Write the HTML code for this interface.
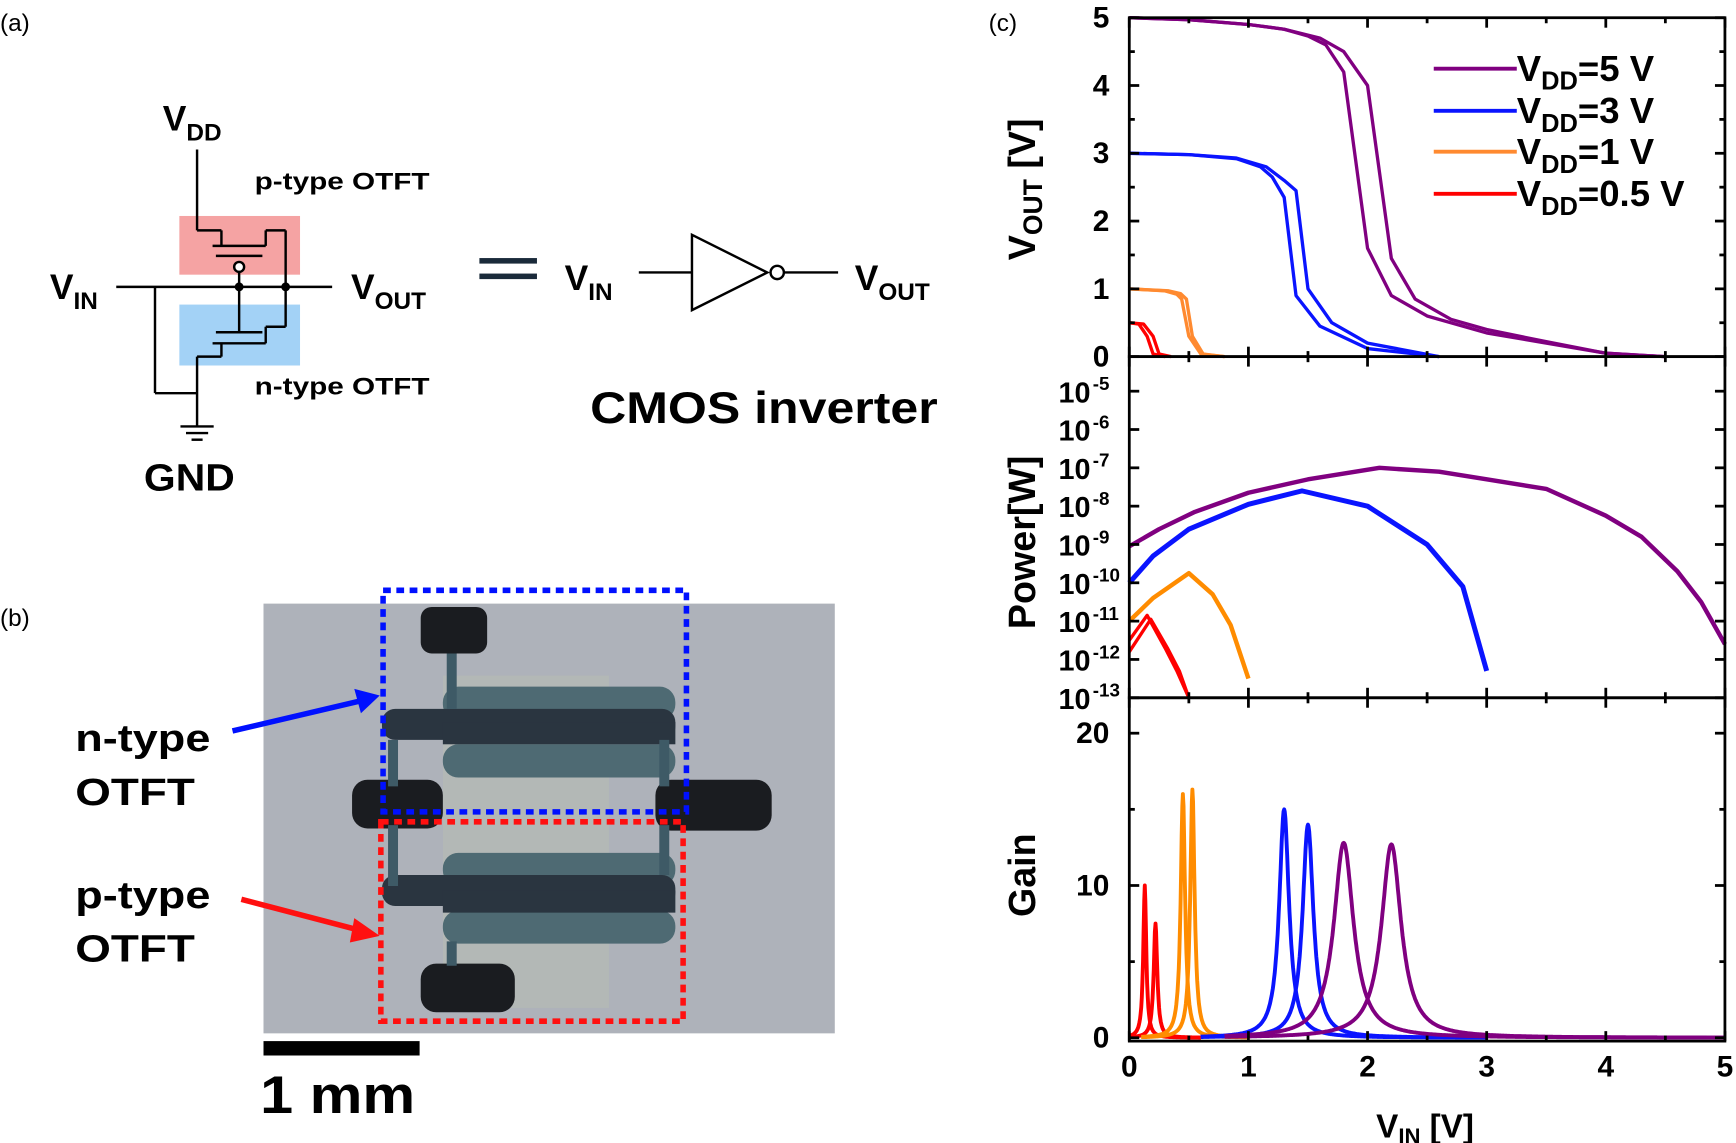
<!DOCTYPE html>
<html><head><meta charset="utf-8"><style>
html,body{margin:0;padding:0;background:#fff}
svg{display:block}
text{font-family:"Liberation Sans",Arial,sans-serif}
</style></head><body>
<svg id="s" width="1736" height="1143" viewBox="0 0 1568 1032" preserveAspectRatio="none" xmlns="http://www.w3.org/2000/svg">
<text x="0" y="28" font-size="22">(a)</text>
<rect x="162" y="195" width="109" height="53" fill="#f5a3a3"/>
<rect x="162" y="275" width="109" height="55" fill="#a3d2f6"/>
<g stroke="#000" stroke-width="2.2" fill="none">
<line x1="178" y1="135" x2="178" y2="208"/>
<line x1="178" y1="208" x2="200" y2="208"/>
<line x1="200" y1="208" x2="200" y2="222"/>
<line x1="192" y1="222" x2="240" y2="222"/>
<line x1="240" y1="208" x2="240" y2="222"/>
<line x1="240" y1="208" x2="258" y2="208"/>
<line x1="258" y1="208" x2="258" y2="259"/>
<line x1="195" y1="231" x2="237" y2="231"/>
<circle cx="216" cy="241" r="4.5" fill="#fff"/>
<line x1="216" y1="246" x2="216" y2="300"/>
<line x1="105" y1="259" x2="300" y2="259"/>
<line x1="195" y1="300" x2="237" y2="300"/>
<line x1="192" y1="310" x2="240" y2="310"/>
<line x1="200" y1="310" x2="200" y2="322"/>
<line x1="240" y1="295" x2="240" y2="310"/>
<line x1="240" y1="295" x2="258" y2="295"/>
<line x1="258" y1="259" x2="258" y2="295"/>
<line x1="200" y1="322" x2="178" y2="322"/>
<line x1="178" y1="322" x2="178" y2="385"/>
<line x1="140" y1="259" x2="140" y2="355"/>
<line x1="140" y1="355" x2="178" y2="355"/>
<line x1="163" y1="385" x2="193" y2="385"/>
<line x1="168" y1="391" x2="188" y2="391"/>
<line x1="173" y1="397" x2="183" y2="397"/>
<line x1="577" y1="246" x2="625" y2="246"/>
<polygon points="625,212 625,280 693,246"/>
<circle cx="702" cy="246" r="6"/>
<line x1="708" y1="246" x2="757" y2="246"/>
</g>
<circle cx="216" cy="259" r="4"/><circle cx="258" cy="259" r="4"/>
<rect x="433" y="233" width="52" height="5" fill="#1a2a3a"/>
<rect x="433" y="247" width="52" height="5" fill="#1a2a3a"/>
<g font-weight="bold">
<text x="147" y="118" font-size="32">V<tspan font-size="22" dy="9">DD</tspan></text>
<text x="45" y="270" font-size="32">V<tspan font-size="22" dy="9">IN</tspan></text>
<text x="317" y="270" font-size="32">V<tspan font-size="22" dy="9">OUT</tspan></text>
<text x="510" y="262" font-size="32">V<tspan font-size="22" dy="9">IN</tspan></text>
<text x="772" y="262" font-size="32">V<tspan font-size="22" dy="9">OUT</tspan></text>
<text x="533" y="382" font-size="40" textLength="314" lengthAdjust="spacingAndGlyphs">CMOS inverter</text>
<text x="130" y="443" font-size="34" textLength="82" lengthAdjust="spacingAndGlyphs">GND</text>
<text x="230" y="171" font-size="22" textLength="158" lengthAdjust="spacingAndGlyphs">p-type OTFT</text>
<text x="230" y="356" font-size="22" textLength="158" lengthAdjust="spacingAndGlyphs">n-type OTFT</text>
</g>
<text x="0" y="565" font-size="22">(b)</text>
<rect x="238" y="545" width="516" height="388" fill="#aeb2ba"/>
<rect x="400" y="610" width="150" height="300" fill="#b6bdb4" opacity="0.6"/>
<g fill="#1a1c20">
<rect x="380" y="548" width="60" height="42" rx="10"/>
<rect x="318" y="704" width="82" height="44" rx="14"/>
<rect x="592" y="704" width="105" height="46" rx="14"/>
<rect x="380" y="870" width="85" height="44" rx="14"/>
</g>
<g fill="#4e6a73">
<rect x="400" y="620" width="210" height="30" rx="14"/>
<rect x="400" y="672" width="210" height="30" rx="14"/>
<rect x="400" y="770" width="210" height="30" rx="14"/>
<rect x="400" y="822" width="210" height="30" rx="14"/>
</g>
<g fill="#2a3540">
<rect x="345" y="640" width="265" height="28" rx="12"/>
<rect x="345" y="790" width="265" height="28" rx="12"/>
<rect x="400" y="652" width="210" height="20"/>
<rect x="400" y="804" width="210" height="20"/>
</g>
<g stroke="#3e5a66" stroke-width="9" fill="none">
<path d="M408 590 V640"/><path d="M355 668 V710"/><path d="M600 668 V710"/><path d="M355 745 V800"/><path d="M600 745 V790"/><path d="M408 850 V872"/>
</g>
<rect x="346" y="533" width="274" height="200" fill="none" stroke="#0010ff" stroke-width="5" stroke-dasharray="7,5"/>
<rect x="344" y="742" width="273" height="180" fill="none" stroke="#ff1010" stroke-width="5" stroke-dasharray="7,5"/>
<line x1="210" y1="660" x2="325" y2="633" stroke="#0010ff" stroke-width="5"/>
<polygon points="343,628 320,622 326,644" fill="#0010ff"/>
<line x1="218" y1="812" x2="325" y2="840" stroke="#ff1010" stroke-width="5"/>
<polygon points="343,845 320,829 316,851" fill="#ff1010"/>
<g font-weight="bold" font-size="34">
<text x="68" y="678" textLength="122" lengthAdjust="spacingAndGlyphs">n-type</text><text x="68" y="727" textLength="108" lengthAdjust="spacingAndGlyphs">OTFT</text>
<text x="68" y="820" textLength="122" lengthAdjust="spacingAndGlyphs">p-type</text><text x="68" y="868" textLength="108" lengthAdjust="spacingAndGlyphs">OTFT</text>
</g>
<rect x="238" y="940" width="141" height="13" fill="#000"/>
<text x="235" y="1005" font-size="48" font-weight="bold" textLength="140" lengthAdjust="spacingAndGlyphs">1 mm</text>
<text x="893" y="28" font-size="22">(c)</text>
<g id="plots"></g>
</svg>
<script>
var NS="http://www.w3.org/2000/svg",g=document.getElementById("plots");
function el(t,a,txt){var e=document.createElementNS(NS,t);for(var k in a)e.setAttribute(k,a[k]);if(txt!=null)e.textContent=txt;g.appendChild(e);return e;}
var L=1020,R=1558;function X(v){return L+v*(R-L)/5;}
function Y1(v){return 322-v*61.2;}
function Y2(v){return 630-(v+13)*34.6;}
function Y3(v){return 937-v*13.75;}
function path(pts,fy,col,w){var d="";pts.forEach(function(p,i){d+=(i?"L":"M")+X(p[0]).toFixed(1)+" "+fy(p[1]).toFixed(1);});el("path",{d:d,stroke:col,"stroke-width":w||3,fill:"none","stroke-linejoin":"round"});}
var P="#800080",B="#0a14ff",O="#ff8a30",O2="#ff8c00",Rd="#ff0000";
path([[0,5],[0.5,4.97],[1,4.9],[1.3,4.83],[1.5,4.73],[1.65,4.6],[1.8,4.2],[2.0,1.6],[2.2,0.9],[2.5,0.6],[3,0.35],[3.5,0.2],[4,0.05],[4.5,0]],Y1,P);
path([[0,5],[0.5,4.97],[1,4.9],[1.3,4.83],[1.6,4.7],[1.8,4.5],[2.0,4.0],[2.2,1.45],[2.4,0.85],[2.7,0.55],[3,0.4],[3.5,0.22],[4,0.05],[4.5,0]],Y1,P);
path([[0,3],[0.5,2.98],[0.9,2.92],[1.1,2.8],[1.2,2.65],[1.3,2.35],[1.4,0.9],[1.6,0.45],[2,0.12],[2.6,0]],Y1,B);
path([[0,3],[0.5,2.98],[0.9,2.93],[1.15,2.8],[1.3,2.6],[1.4,2.45],[1.5,1.0],[1.7,0.5],[2,0.2],[2.6,0]],Y1,B);
path([[0,1],[0.3,0.97],[0.4,0.92],[0.44,0.85],[0.5,0.3],[0.6,0.04],[0.8,0]],Y1,O);
path([[0,1],[0.33,0.97],[0.43,0.93],[0.48,0.85],[0.53,0.3],[0.62,0.04],[0.8,0]],Y1,O);
path([[0,0.5],[0.08,0.48],[0.15,0.3],[0.2,0.04],[0.3,0]],Y1,Rd);
path([[0,0.5],[0.12,0.48],[0.2,0.3],[0.25,0.04],[0.35,0]],Y1,Rd);
path([[0,-9.05],[0.25,-8.6],[0.55,-8.15],[1,-7.65],[1.5,-7.3],[2.1,-7.0],[2.6,-7.1],[3,-7.3],[3.5,-7.55],[4,-8.25],[4.3,-8.8],[4.6,-9.7],[4.8,-10.5],[5,-11.6]],Y2,P,4);
path([[0,-10.0],[0.2,-9.3],[0.5,-8.6],[1,-7.95],[1.45,-7.6],[2,-8.0],[2.5,-9.0],[2.8,-10.1],[3,-12.3]],Y2,B,4.5);
path([[0,-11.0],[0.2,-10.4],[0.5,-9.75],[0.7,-10.3],[0.85,-11.1],[1,-12.5]],Y2,O2,4);
path([[0,-11.5],[0.15,-10.85],[0.3,-11.7],[0.4,-12.3],[0.5,-13]],Y2,Rd,3);
path([[0,-11.8],[0.18,-10.95],[0.32,-11.7],[0.42,-12.3],[0.5,-13]],Y2,Rd,3);
function lor(x0,pk,w,a,b,col){var pts=[];for(var x=a;x<=b+1e-9;x+=0.005){var v=pk/(1+Math.pow((x-x0)/w,2));pts.push([x,v]);}path(pts,Y3,col,3.5);}
lor(0.13,10,0.015,0,0.6,Rd);lor(0.22,7.5,0.018,0,0.6,Rd);
lor(0.45,16,0.022,0.1,1.0,O2);lor(0.53,16.3,0.022,0.1,1.0,O2);
lor(1.3,15,0.05,0.6,3,B);lor(1.5,14,0.055,0.6,3,B);
lor(1.8,12.8,0.1,0.8,5,P);lor(2.2,12.7,0.1,0.8,5,P);
[16,322,630].forEach(function(t,i){var b=[322,630,940][i];el("rect",{x:L,y:t,width:R-L,height:b-t,fill:"none",stroke:"#000","stroke-width":2.5});
 for(var v=0;v<=5;v+=0.5){var big=v%1==0;el("line",{x1:X(v),x2:X(v),y1:b,y2:b-(big?9:5),stroke:"#000","stroke-width":2.5});el("line",{x1:X(v),x2:X(v),y1:t,y2:t+(big?9:5),stroke:"#000","stroke-width":2.5});}});
function ytick(y,big){el("line",{x1:L,x2:L+(big?9:5),y1:y,y2:y,stroke:"#000","stroke-width":2.5});el("line",{x1:R,x2:R-(big?9:5),y1:y,y2:y,stroke:"#000","stroke-width":2.5});}
for(var v=0;v<=5;v+=0.5)ytick(Y1(v),v%1==0);
for(var v=-13;v<=-5;v++)ytick(Y2(v),true);
for(var v=0;v<=20;v+=5)ytick(Y3(v),v%10==0);
var fb={"font-weight":"bold","font-size":27,"text-anchor":"end"};
function T(x,y,t,a){var o={x:x,y:y};for(var k in a)o[k]=a[k];return el("text",o,t);}
for(var v=0;v<=5;v++)T(1002,Y1(v)+9,String(v),fb);
for(var v=-13;v<=-5;v++){T(985,Y2(v)+10,"10",{"font-weight":"bold","font-size":26,"text-anchor":"end"});T(987,Y2(v)-1,String(v),{"font-weight":"bold","font-size":17});}
T(1002,Y3(0)+9,"0",fb);T(1002,Y3(10)+9,"10",fb);T(1002,Y3(20)+9,"20",fb);
for(var v=0;v<=5;v++)T(X(v),972,String(v),{"font-weight":"bold","font-size":27,"text-anchor":"middle"});
var xl=T(1243,1027,"",{"font-weight":"bold","font-size":30});xl.innerHTML='V<tspan font-size="20" dy="6">IN</tspan><tspan dy="-6"> [V]</tspan>';
var a1=T(0,0,"",{"font-weight":"bold","font-size":34,transform:"translate(935,235) rotate(-90)"});a1.innerHTML='V<tspan font-size="24" dy="6">OUT</tspan><tspan dy="-6"> [V]</tspan>';
T(0,0,"Power[W]",{"font-weight":"bold","font-size":34,transform:"translate(935,568) rotate(-90)"});
T(0,0,"Gain",{"font-weight":"bold","font-size":34,transform:"translate(935,828) rotate(-90)"});
[[P,"5 V",62],[B,"3 V",100],[O,"1 V",137],[Rd,"0.5 V",175]].forEach(function(l){el("line",{x1:1295,x2:1370,y1:l[2],y2:l[2],stroke:l[0],"stroke-width":3.5});var t=T(1370,l[2]+11,"",{"font-weight":"bold","font-size":33});t.innerHTML='V<tspan font-size="23" dy="8">DD</tspan><tspan dy="-8">='+l[1]+'</tspan>';});
</script>
</body></html>
